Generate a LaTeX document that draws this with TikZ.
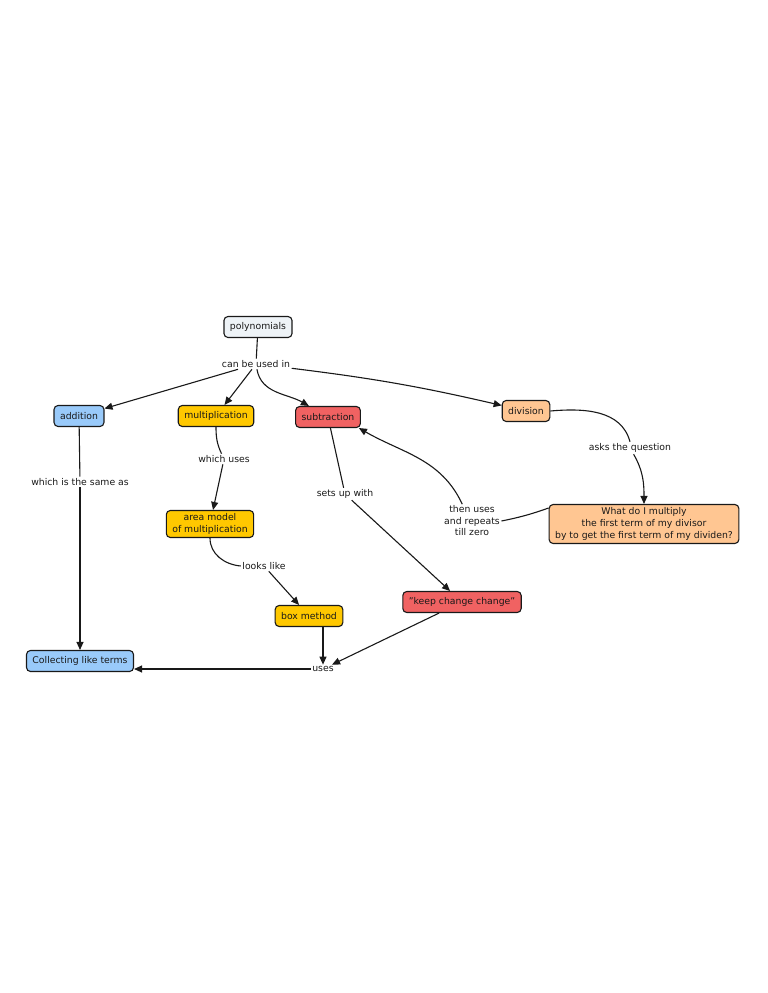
\documentclass[tikz,border=0pt]{standalone}
\usepackage{fontspec}
\setmainfont{DejaVu Sans}
\usetikzlibrary{arrows.meta}

\definecolor{polyfill}{RGB}{238,243,247}
\definecolor{bluefill}{RGB}{153,202,250}
\definecolor{goldfill}{RGB}{255,200,0}
\definecolor{redfill}{RGB}{240,98,98}
\definecolor{peachfill}{RGB}{255,198,146}

\begin{document}
\begin{tikzpicture}[
x=1pt, y=-1pt,
concept/.style={draw=black!90, line width=1.1pt, rounded corners=4pt, align=center, font=\fontsize{9.3}{12}\selectfont, text=black!90, inner xsep=6pt, inner ysep=3pt, minimum height=21pt},
phrase/.style={fill=white, align=center, font=\fontsize{9.3}{11.5}\selectfont, text=black!90, inner sep=1.5pt},
arrow/.style={-{Triangle[length=8pt,width=7pt]}, line width=1.1pt, black!90},
link/.style={line width=1.1pt, black!90}
]
\useasboundingbox (0,0) rectangle (768,993);

% concepts
\node[concept, fill=polyfill] (poly) at (258,327) {polynomials};
\node[concept, fill=bluefill] (add) at (79,416) {addition};
\node[concept, fill=goldfill] (mult) at (216,416) {multiplication};
\node[concept, fill=redfill] (sub) at (328,417) {subtraction};
\node[concept, fill=peachfill] (div) at (526,411) {division};
\node[concept, fill=goldfill] (area) at (210,524) {area model\\of multiplication};
\node[concept, fill=peachfill] (what) at (644,524) {What do I multiply\\the first term of my divisor\\by to get the first term of my dividen?};
\node[concept, fill=goldfill] (box) at (309,616) {box method};
\node[concept, fill=redfill] (keep) at (462,602) {"keep change change"};
\node[concept, fill=bluefill] (collect) at (80,661) {Collecting like terms};

% linking phrases
\node[phrase] (canbe) at (256,364) {can be used in};
\node[phrase] (same) at (80,482) {which is the same as};
\node[phrase] (whichuses) at (224,459) {which uses};
\node[phrase] (setsup) at (345,494) {sets up with};
\node[phrase] (asks) at (630,448) {asks the question};
\node[phrase] (then) at (472,521) {then uses\\and repeats\\till zero};
\node[phrase] (looks) at (264,566) {looks like};
\node[phrase] (uses) at (323,669) {uses};

% connections
\draw[link] (poly) -- (canbe);
\draw[arrow] (canbe) -- (add);
\draw[arrow] (canbe) -- (mult);
\draw[arrow] (canbe) to[out=-80,in=150] (sub);
\draw[arrow] (canbe) to[bend left=3] (div);

\draw[link] (add) -- (same);
\draw[arrow] (same) -- (collect);

\draw[link] (mult.south) to[out=-90,in=115] (whichuses);
\draw[arrow] (whichuses) -- (area);
\draw[link] (area.south) to[out=-90,in=175] (looks.west);
\draw[arrow] (looks) -- (box);

\draw[link] (sub) -- (setsup);
\draw[arrow] (setsup) -- (keep);

\draw[link] (div.east) to[out=5,in=105] (asks.north);
\draw[arrow] (asks) to[out=-60,in=90] (what.north);
\draw[link] ([yshift=16pt]what.west) to[bend left=4] (then.east);
\draw[arrow] (then.120) to[out=115,in=-30] ([xshift=-2pt]sub.south east);

\draw[arrow] (box.south -| uses.north) -- (uses.north);
\draw[arrow] (keep) -- (uses);
\draw[arrow] (uses.west) -- (uses.west -| collect.east);
\end{tikzpicture}
\end{document}
